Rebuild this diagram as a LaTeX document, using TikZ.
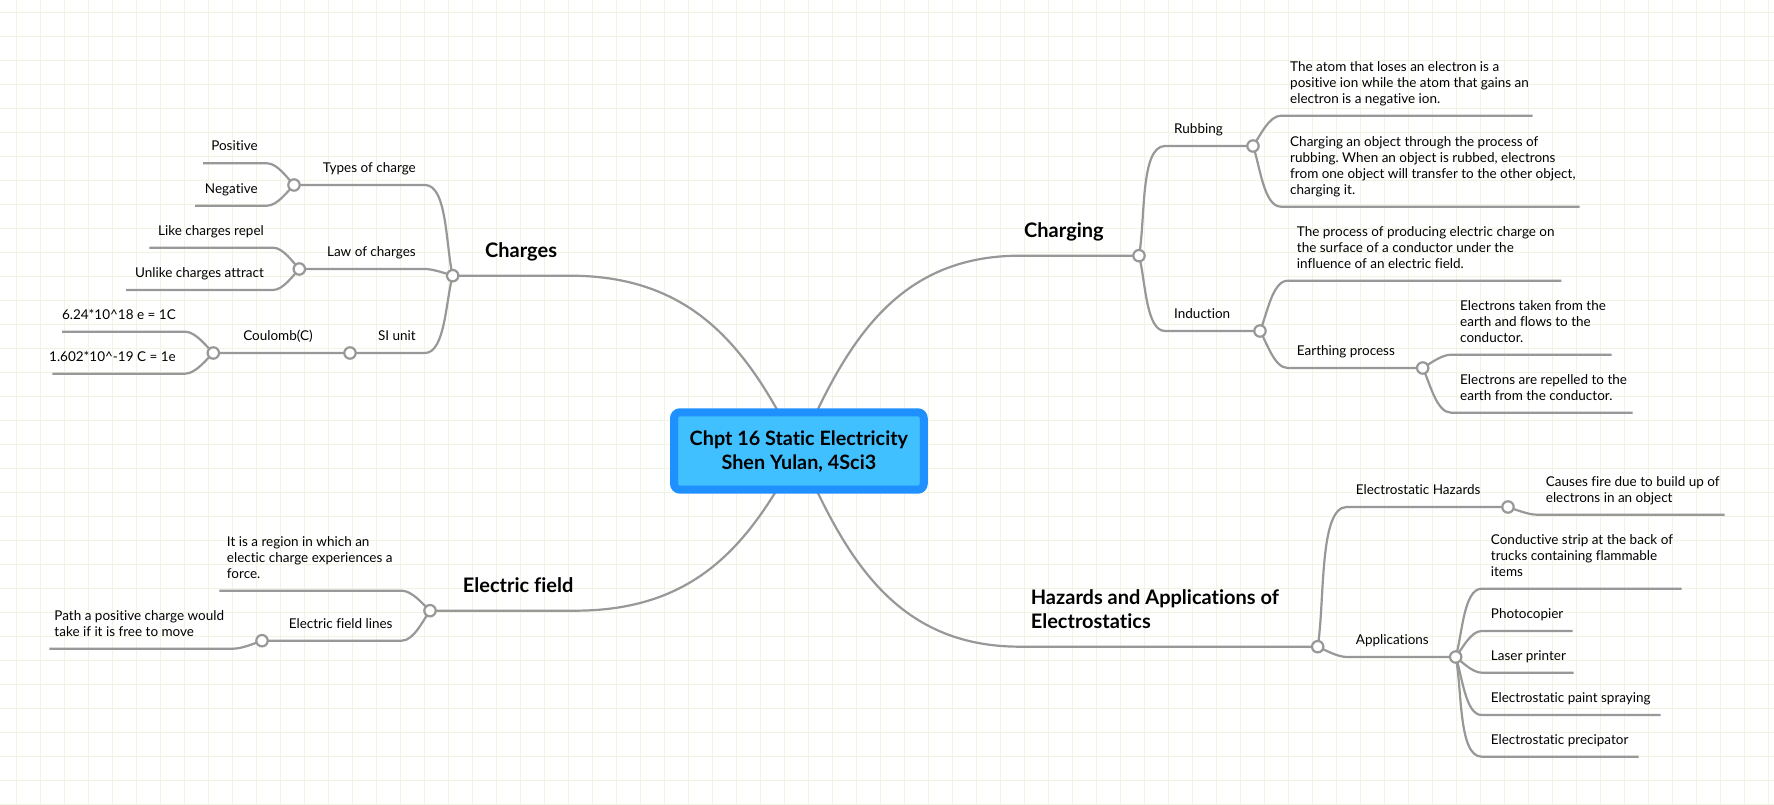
\documentclass[tikz,border=0pt]{standalone}
\usepackage{fontspec}
\setmainfont{Lato}[Ligatures=NoCommon]
\usetikzlibrary{positioning,calc}
\definecolor{gridc}{HTML}{EEF5E3}
\definecolor{linec}{HTML}{989898}
\definecolor{boxb}{HTML}{1E90FF}
\definecolor{boxf}{HTML}{40C0FF}
\pgfdeclarelayer{lines}
\pgfsetlayers{lines,main}
\frenchspacing
\newcommand\rise{12.4pt}
\newcommand\bigrise{18.2pt}
\newcommand\pad{9pt}
\tikzset{
	dot/.style={circle, draw=linec, fill=white, line width=2.2pt, minimum size=11.4pt, inner sep=0pt, anchor=center},
	centre/.style={rectangle, rounded corners=6pt, draw=boxb, fill=boxf, line width=8pt,
		minimum width=249.7pt, minimum height=77.4pt, inner sep=0pt, align=center, text depth=2pt,
		font=\fontsize{19.8}{24}\selectfont\bfseries},
	leaf/.style={inner sep=0pt, text depth=0pt, align=left, font=\fontsize{13.5}{16}\selectfont},
	head/.style={inner sep=0pt, text depth=0pt, align=left, font=\fontsize{20}{24}\selectfont\bfseries},
	txtl/.style={leaf, above left=\rise and \pad of #1, anchor=south east},
	txtr/.style={leaf, above right=\rise and \pad of #1, anchor=south west},
	branch/.style={draw=linec, line width=2.2pt},
	twig/.style={to path={let \p1=(\tikztostart), \p2=(\tikztotarget),
		\n1={max(.04,.75-.17*abs(\y2-\y1)/abs(\x2-\x1))} in
		.. controls ({\x1+.25*(\x2-\x1)},{\y1+.32*(\y2-\y1)}) and ({\x1+\n1*(\x2-\x1)},{\y2}) .. (\tikztotarget)}},
	limb/.style={to path={let \p1=(\tikztostart), \p2=(\tikztotarget) in
		.. controls ({\x1+.21*(\x2-\x1)},{\y1+.55*(\y2-\y1)}) and ({\x1+.44*(\x2-\x1)},{\y2}) .. (\tikztotarget)}},
}
\begin{document}
\begin{tikzpicture}[x=1pt, y=1pt, on grid]
	\useasboundingbox (0,0) rectangle (1774,805);
	\begin{pgfonlayer}{lines}
		\fill[white] (0,0) rectangle (1774,805);
		\foreach \gx in {0,...,73}
			\draw[gridc, line width=1pt] ({16.67+24*\gx},0) -- ({16.67+24*\gx},805);
		\foreach \gy in {0,...,33}
			\draw[gridc, line width=1pt] (0,{805-12.67-24*\gy}) -- (1774,{805-12.67-24*\gy});
	\end{pgfonlayer}

	\node [centre] (central) at (798.9,354) {Chpt 16 Static Electricity\\Shen Yulan, 4Sci3};

	% charges
	\node [above left=175.3pt and 346.2pt of central, dot] (charges) {};
	\coordinate [right=117.3pt of charges] (chargesc);
	\node [head, above right=\bigrise and 32.3pt of charges, anchor=south west] (chargest) {Charges};
	\coordinate [above left=90.7pt and 27.7pt of charges] (typesc);
	\coordinate [above left=6.7pt and 27.7pt of charges] (lawc);
	\coordinate [below left=77.3pt and 27.7pt of charges] (unitc);
	\node [left=131pt of typesc, dot] (types) {};
	\node [left=125.7pt of lawc, dot] (law) {};
	\node [left=75pt of unitc, dot] (unit) {};
	\node [left=136.7pt of unit, dot] (coulomb) {};
	\node [txtl=typesc] (typest) {Types of charge};
	\node [txtl=lawc] (lawt) {Law of charges};
	\node [txtl=unitc] (unitt) {SI unit};
	\node [leaf, above left=\rise and 37pt of unit, anchor=south east] (coulombt) {Coulomb(C)};
	% charges leaves
	\coordinate [above left=21.7pt and 27pt of types] (posc);
	\coordinate [left=64pt of posc] (pose);
	\node [txtl=posc] (post) {Positive};
	\coordinate [below left=20.7pt and 27pt of types] (negc);
	\coordinate [left=72pt of negc] (nege);
	\node [txtl=negc] (negt) {Negative};
	\coordinate [above left=21.3pt and 26.3pt of law] (likec);
	\coordinate [left=123.7pt of likec] (likee);
	\node [txtl=likec] (liket) {Like charges repel};
	\coordinate [below left=21pt and 26.3pt of law] (unlikec);
	\coordinate [left=147pt of unlikec] (unlikee);
	\node [txtl=unlikec] (unliket) {Unlike charges attract};
	\coordinate [above left=21.3pt and 28.3pt of coulomb] (numc);
	\coordinate [left=123pt of numc] (nume);
	\node [txtl=numc] (numt) {6.24*10\textasciicircum18 e = 1C};
	\coordinate [below left=20.7pt and 28.3pt of coulomb] (elemc);
	\coordinate [left=132.7pt of elemc] (eleme);
	\node [txtl=elemc] (elemt) {1.602*10\textasciicircum-19 C = 1e};

	% electric field
	\node [below left=159.7pt and 368.9pt of central, dot] (field) {};
	\coordinate [right=145pt of field] (fieldc);
	\node [head, above right=\bigrise and 32.7pt of field, anchor=south west] (fieldt) {Electric field};
	\coordinate [above left=20pt and 28.3pt of field] (regionc);
	\coordinate [left=182.4pt of regionc] (regione);
	\node [txtl=regionc] (regiont) {It is a region in which an\\electic charge experiences a\\force.};
	\coordinate [below left=30pt and 28.3pt of field] (linesc);
	\node [left=139.7pt of linesc, dot] (flines) {};
	\node [txtl=linesc] (linest) {Electric field lines};
	\coordinate [below left=8pt and 28.7pt of flines] (pathc);
	\coordinate [left=184pt of pathc] (pathe);
	\node [txtl=pathc] (patht) {Path a positive charge would\\take if it is free to move};

	% charging
	\node [above right=195.3pt and 340.1pt of central, dot] (charging) {};
	\coordinate [left=119pt of charging] (chargingc);
	\node [head, above right=18pt and 4pt of chargingc, anchor=south west] (chargingt) {Charging};
	\coordinate [above right=109.7pt and 26pt of charging] (rubc);
	\node [right=88pt of rubc, dot] (rub) {};
	\node [txtr=rubc] (rubt) {Rubbing};
	\coordinate [above right=30.3pt and 28pt of rub] (atomc);
	\coordinate [right=251.5pt of atomc] (atome);
	\node [txtr=atomc] (atomt) {The atom that loses an electron is a\\positive ion while the atom that gains an\\electron is a negative ion.};
	\coordinate [below right=60.7pt and 28pt of rub] (objc);
	\coordinate [right=298.7pt of objc] (obje);
	\node [txtr=objc] (objt) {Charging an object through the process of\\rubbing. When an object is rubbed, electrons\\from one object will transfer to the other object,\\charging it.};
	\coordinate [below right=75.3pt and 26pt of charging] (indc);
	\node [right=95pt of indc, dot] (ind) {};
	\node [txtr=indc] (indt) {Induction};
	\coordinate [above right=50.3pt and 27.7pt of ind] (procc);
	\coordinate [right=273.7pt of procc] (proce);
	\node [txtr=procc] (proct) {The process of producing electric charge on\\the surface of a conductor under the\\influence of an electric field.};
	\coordinate [below right=37pt and 27.7pt of ind] (earthc);
	\node [right=135pt of earthc, dot] (earth) {};
	\node [txtr=earthc] (eartht) {Earthing process};
	\coordinate [above right=13.3pt and 28.3pt of earth] (takenc);
	\coordinate [right=160.7pt of takenc] (takene);
	\node [txtr=takenc] (takent) {Electrons taken from the\\earth and flows to the\\conductor.};
	\coordinate [below right=44.7pt and 28.3pt of earth] (repc);
	\coordinate [right=181.7pt of repc] (repe);
	\node [txtr=repc] (rept) {Electrons are repelled to the\\earth from the conductor.};

	% hazards and applications
	\node [below right=195.7pt and 518.8pt of central, dot] (hazards) {};
	\coordinate [left=297.7pt of hazards] (hazardsc);
	\node [head, above right=\bigrise and 10.6pt of hazardsc, anchor=south west] (hazardst) {Hazards and Applications of\\Electrostatics};
	\coordinate [above right=139.7pt and 29pt of hazards] (hazc);
	\node [right=161.3pt of hazc, dot] (haz) {};
	\node [txtr=hazc] (hazt) {Electrostatic Hazards};
	\coordinate [below right=7.7pt and 28.7pt of haz] (firec);
	\coordinate [right=188pt of firec] (firee);
	\node [txtr=firec] (firet) {Causes fire due to build up of\\electrons in an object};
	\coordinate [below right=10.3pt and 29pt of hazards] (appc);
	\node [right=109pt of appc, dot] (app) {};
	\node [txtr=appc] (appt) {Applications};
	\coordinate [above right=68.3pt and 26pt of app] (stripc);
	\coordinate [right=200pt of stripc] (stripe);
	\node [txtr=stripc] (stript) {Conductive strip at the back of\\trucks containing flammable\\items};
	\coordinate [above right=26pt and 26pt of app] (copyc);
	\coordinate [right=91pt of copyc] (copye);
	\node [txtr=copyc] (copyt) {Photocopier};
	\coordinate [below right=15.7pt and 26pt of app] (laserc);
	\coordinate [right=92pt of laserc] (lasere);
	\node [txtr=laserc] (lasert) {Laser printer};
	\coordinate [below right=58pt and 26pt of app] (paintc);
	\coordinate [right=179pt of paintc] (painte);
	\node [txtr=paintc] (paintt) {Electrostatic paint spraying};
	\coordinate [below right=99.7pt and 26pt of app] (precc);
	\coordinate [right=157pt of precc] (prece);
	\node [txtr=precc] (prect) {Electrostatic precipator};

	\begin{pgfonlayer}{lines}
		\draw [branch] (central.center) to[limb] (chargesc) -- (charges.center);
		\draw [branch] (central.center) to[limb] (fieldc) -- (field.center);
		\draw [branch] (central.center) to[limb] (chargingc) -- (charging.center);
		\draw [branch] (central.center) to[limb] (hazardsc) -- (hazards.center);
		% charges
		\draw [branch] (charges.center) to[twig] (typesc) -- (types.center);
		\draw [branch] (charges.center) to[twig] (lawc) -- (law.center);
		\draw [branch] (charges.center) to[twig] (unitc) -- (unit.center) -- (coulomb.center);
		\draw [branch] (types.center) to[twig] (posc) -- (pose);
		\draw [branch] (types.center) to[twig] (negc) -- (nege);
		\draw [branch] (law.center) to[twig] (likec) -- (likee);
		\draw [branch] (law.center) to[twig] (unlikec) -- (unlikee);
		\draw [branch] (coulomb.center) to[twig] (numc) -- (nume);
		\draw [branch] (coulomb.center) to[twig] (elemc) -- (eleme);
		% electric field
		\draw [branch] (field.center) to[twig] (regionc) -- (regione);
		\draw [branch] (field.center) to[twig] (linesc) -- (flines.center);
		\draw [branch] (flines.center) to[twig] (pathc) -- (pathe);
		% charging
		\draw [branch] (charging.center) to[twig] (rubc) -- (rub.center);
		\draw [branch] (charging.center) to[twig] (indc) -- (ind.center);
		\draw [branch] (rub.center) to[twig] (atomc) -- (atome);
		\draw [branch] (rub.center) to[twig] (objc) -- (obje);
		\draw [branch] (ind.center) to[twig] (procc) -- (proce);
		\draw [branch] (ind.center) to[twig] (earthc) -- (earth.center);
		\draw [branch] (earth.center) to[twig] (takenc) -- (takene);
		\draw [branch] (earth.center) to[twig] (repc) -- (repe);
		% hazards and applications
		\draw [branch] (hazards.center) to[twig] (hazc) -- (haz.center);
		\draw [branch] (hazards.center) to[twig] (appc) -- (app.center);
		\draw [branch] (haz.center) to[twig] (firec) -- (firee);
		\draw [branch] (app.center) to[twig] (stripc) -- (stripe);
		\draw [branch] (app.center) to[twig] (copyc) -- (copye);
		\draw [branch] (app.center) to[twig] (laserc) -- (lasere);
		\draw [branch] (app.center) to[twig] (paintc) -- (painte);
		\draw [branch] (app.center) to[twig] (precc) -- (prece);
	\end{pgfonlayer}
\end{tikzpicture}
\end{document}
